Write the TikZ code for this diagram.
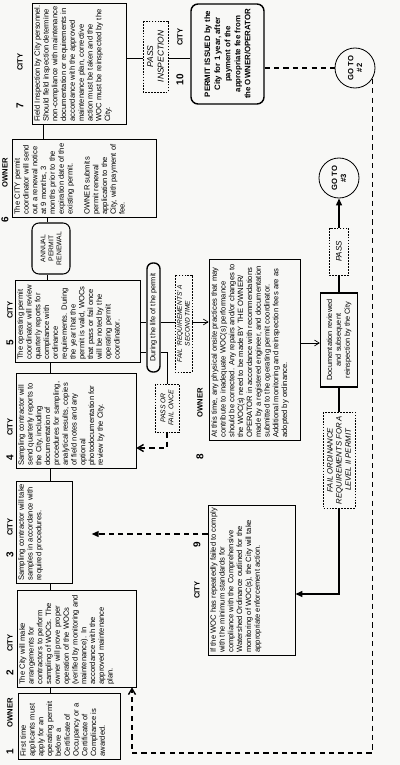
\documentclass[tikz,border=0pt]{standalone}
\usepackage{fontspec}
\setmainfont{Liberation Sans}
\usetikzlibrary{arrows.meta}
\definecolor{paper}{RGB}{248,248,246}
\newcommand{\boxtxt}[3]{\parbox[c][#2][t]{#1}{\raggedright #3}}

\tikzset{
  stepbox/.style={draw,line width=0.6pt,rotate=90,inner sep=2pt,font=\fontsize{6.5}{7.5}\selectfont},
  role/.style={rotate=90,font=\fontsize{6.5}{7}\selectfont\bfseries},
  stepnum/.style={rotate=90,font=\fontsize{8.5}{9}\selectfont\bfseries},
  outcome/.style={draw,line width=0.6pt,dash pattern=on 1.5pt off 1pt,rotate=90,align=center,inner sep=1pt,font=\fontsize{6}{7}\selectfont\itshape},
  goto/.style={draw,circle,line width=0.7pt,rotate=90,minimum size=1.2cm,inner sep=0pt,align=center,font=\fontsize{6.5}{7.5}\selectfont\bfseries},
  link/.style={line width=0.6pt},
  heavy/.style={line width=1.4pt},
  flowdash/.style={line width=1.2pt,dash pattern=on 4.5pt off 3.5pt},
}

\begin{document}
\begin{tikzpicture}[x=0.03cm,y=-0.03cm]
  \fill[paper] (0,0) rectangle (400,765);
  \useasboundingbox (0,0) rectangle (400,765);

  % Steps 1 to 9
  \node[stepbox] (box1) at (69,726) {\boxtxt{1.84cm}{2.92cm}{First time applicants must apply for an operating permit before a Certificate of Occupancy or a Certificate of Compliance is awarded.}};
  \node[stepbox] (box2) at (76.5,638.5) {\boxtxt{2.77cm}{3.43cm}{The City will make arrangements for contractors to perform sampling of WOCs. The owner will prove proper operation of the WOCs (verified by monitoring and maintenance). In accordance with the approved maintenance plan.}};
  \node[stepbox] (box3) at (44,532) {\boxtxt{2.92cm}{1.54cm}{Sampling contractor will take samples in accordance with required procedures.}};
  \node[stepbox] (box4) at (76,420.5) {\boxtxt{2.71cm}{3.46cm}{Sampling contractor will send quarterly reports to the City, including documentation of procedures for sampling, analytical results, copies of field notes and any optional photodocumentation for review by the City.}};
  \node[stepbox] (box5) at (77.5,321) {\boxtxt{2.32cm}{3.61cm}{The operating permit coordinator will review quarterly reports for compliance with ordinance requirements. During the year that the permit is valid, WOCs that pass or fail once will be noted by the operating permit coordinator.}};
  \node[stepbox] (box6) at (84,178) {\boxtxt{2.20cm}{4.18cm}{The CITY permit coordinator will send out a renewal notice at 9 months, 3 months prior to the expiration date of the existing permit.\par\vspace{7pt}OWNER submits permit renewal application to the City, with payment of fee.}};
  \node[stepbox] (box7) at (79,63.5) {\boxtxt{3.49cm}{2.68cm}{Field Inspection by City personnel. Should field inspection determine non-compliance with maintenance documentation or requirements in accordance with the approved maintenance plan, corrective action must be taken and the WOC must be reinspected by the City.}};
  \node[stepbox] (box8) at (254.5,349.5) {\boxtxt{5.29cm}{2.59cm}{At this time, any physical onsite practices that may contribute to inadequate WOC(s) performance should be corrected. Any repairs and/or changes to the WOC(s) need to be made BY THE OWNER/ OPERATOR in accordance with recommendations made by a registered engineer, and documentation submitted to the operating permit coordinator. Additional monitoring and reinspection fees are as adopted by ordinance.}};
  \node[stepbox] (box9) at (251.5,580) {\boxtxt{4.36cm}{2.47cm}{If the WOC has repeatedly failed to comply with the minimum standards for compliance with the Comprehensive Watershed Ordinance outlined for the monitoring of WOC(s), the City will take appropriate enforcement action.}};

  % Numbers and roles
  \node[stepnum] (n1) at (10,752) {1};  \node[role] (r1) at (10,713) {OWNER};
  \node[stepnum] (n2) at (10,673) {2};  \node[role] (r2) at (10,643) {CITY};
  \node[stepnum] (n3) at (10,555) {3};  \node[role] (r3) at (10,527) {CITY};
  \node[stepnum] (n4) at (10,458) {4};  \node[role] (r4) at (10,427) {CITY};
  \node[stepnum] (n5) at (10,343) {5};  \node[role] (r5) at (10,310) {CITY};
  \node[stepnum] (n6) at (5,220) {6};   \node[role] (r6) at (5,173) {OWNER};
  \node[stepnum] (n7) at (20,106) {7};  \node[role] (r7) at (20,62) {CITY};
  \node[stepnum] (n10) at (180,80) {10}; \node[role] (r10) at (180,37) {CITY};
  \node[stepnum] (n8) at (200,457) {8}; \node[role] (r8) at (200,403) {OWNER};
  \node[stepnum] (n9) at (197,545) {9}; \node[role] (r9) at (197,590) {CITY};

  % Renewal, permit and outcomes
  \node[draw,line width=0.9pt,rounded corners=6pt,rotate=90,minimum width=1.53cm,minimum height=1.14cm,align=center,inner sep=1pt,font=\fontsize{5.8}{6.8}\selectfont] (annual) at (51,248.5) {ANNUAL\\PERMIT\\RENEWAL};
  \node[draw,line width=1.2pt,rounded corners=5pt,rotate=90,minimum width=3.27cm,minimum height=0.39cm,inner sep=1pt,font=\fontsize{6.3}{7}\selectfont] (pill) at (153.5,317.5) {During the life of the permit};
  \node[outcome,minimum width=2.13cm,minimum height=0.75cm,font=\fontsize{7.2}{9}\selectfont\itshape] (passinsp) at (155.5,56.5) {PASS\\INSPECTION};
  \node[draw,line width=1.2pt,rounded corners=6pt,rotate=90,minimum width=3.0cm,minimum height=2.19cm,align=center,inner sep=1pt,font=\fontsize{6.7}{8.6}\selectfont\bfseries] (permit) at (227.5,54) {PERMIT ISSUED by the\\City for 1 year, after\\payment of the\\appropriate fee from\\the OWNER/OPERATOR};
  \node[goto] (goto2) at (355,68) {GO TO\\\#2};
  \node[outcome,minimum width=2.91cm,minimum height=0.51cm,font=\fontsize{5.6}{6.5}\selectfont\itshape] (fail2) at (183.5,323.5) {FAIL `REQUIREMENTS' A\\SECOND TIME};
  \node[outcome,minimum width=1.44cm,minimum height=0.72cm,font=\fontsize{5.8}{6.8}\selectfont\itshape] (passfail) at (167,408) {PASS OR\\FAIL ONCE};
  \node[draw,line width=1.2pt,rotate=90,minimum width=2.82cm,minimum height=1.11cm,align=center,inner sep=1pt,font=\fontsize{6.3}{7.6}\selectfont] (doc) at (339,340) {Documentation reviewed\\and subsequent\\reinspection by the City};
  \node[outcome,minimum width=1.41cm,minimum height=0.57cm,font=\fontsize{6.8}{7.5}\selectfont\itshape] (pass) at (339,251.5) {PASS};
  \node[goto] (goto3) at (339,178) {GO TO\\\#3};
  \node[outcome,minimum width=2.88cm,minimum height=0.96cm,font=\fontsize{6.6}{7.8}\selectfont\itshape] (failord) at (339,460) {FAIL ORDINANCE\\REQUIREMENTS FOR A\\LEVEL II PERMIT};

  % Main sequence
  \foreach \a/\b in {box1/box2,box2/box3,box3/box4,box4/box5}{
    \draw[link] (\a.east -| 50,0) -- (\b.west -| 50,0);
  }
  \draw[link] (box5.east -| 47,0) -- (annual.west -| 47,0);
  \draw[link] (annual.east -| 47,0) -- (box6.west -| 47,0);
  \draw[link] (box6.east -| 43,0) -- (box7.west -| 43,0);
  \draw[link] (box7.south |- 0,58) -- (passinsp.north |- 0,58);
  \draw[link] (passinsp.south |- 0,58) -- (permit.north |- 0,58);
  \draw[flowdash] (permit.south |- goto2.north) -- (goto2.north);
  \draw[flowdash,-{Straight Barb[length=5pt,width=6pt]}] (goto2.-122) |- (132,753) -- (box2.west -| 132,0);

  % During the life of the permit
  \draw[link] (box5.south |- 0,322) -- (pill.north |- 0,322);
  \draw[link] (box5.south |- 0,352) -- (pill.north |- 0,352);
  \draw[link] (pill.south |- 0,322) -- (fail2.north |- 0,322);
  \draw[link,-{Straight Barb[length=4pt,width=5pt]}] (fail2.south |- 0,322) -- (box8.north |- 0,322);
  \draw[link] (pill.south |- 0,352) -| (passfail.east);
  \draw[flowdash,-{Straight Barb[length=5pt,width=6pt]}] (passfail.west) |- (box4.south |- 0,448);

  % Reinspection
  \draw[link,-{Straight Barb[length=4pt,width=5pt]}] (box8.south |- 0,343) -- (doc.north |- 0,343);
  \draw[heavy] (doc.east) -- (pass.west);
  \draw[heavy,-{Triangle[length=6pt,width=5pt]}] (pass.east) -- (goto3.west);
  \draw[heavy] (doc.west) -- (failord.east);
  \draw[heavy,-{Triangle[length=6pt,width=5pt]}] (failord.west) |- (box9.south |- 0,594);
  \draw[flowdash,-{Triangle[length=6pt,width=5pt]}] (box9.north |- 0,534) -- ++(-116,0);
\end{tikzpicture}
\end{document}
